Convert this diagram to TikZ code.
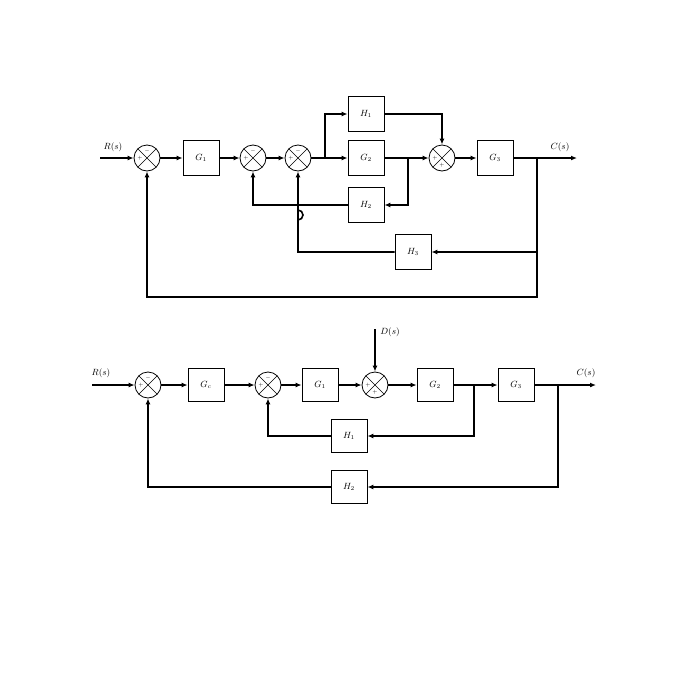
\documentclass[tikz,border=0pt]{standalone}
\usetikzlibrary{arrows.meta}
\begin{document}
\begin{tikzpicture}[x=1pt,y=-1pt,
  blk/.style={draw,line width=0.8pt,minimum width=36pt,minimum height=35pt,inner sep=0pt,font=\small},
  sblk/.style={blk,minimum height=33pt},
  sumj/.style={draw,circle,line width=0.8pt,minimum size=26pt,inner sep=0pt,
    path picture={\draw[line width=0.6pt] (path picture bounding box.south west)--(path picture bounding box.north east)
      (path picture bounding box.north west)--(path picture bounding box.south east);}},
  sgn/.style={font=\tiny,inner sep=0pt},
  sig/.style={line width=1.6pt,-{Latex[length=6pt,width=5pt]}},
  ln/.style={line width=1.6pt},
  lab/.style={font=\small,inner sep=0pt}]
\useasboundingbox (0,0) rectangle (681,675);
% ---------- top ----------
\coordinate (tin) at (100,158);
\node[sumj] (t1) at (147,158) {};
\node[blk] (tg1) at (201,158) {$G_1$};
\node[sumj] (t2) at (253,158) {};
\node[sumj] (t3) at (298,158) {};
\node[blk] (th1) at (366,114) {$H_1$};
\node[blk] (tg2) at (366,158) {$G_2$};
\node[blk] (th2) at (366,205) {$H_2$};
\node[sumj] (t4) at (442,158) {};
\node[blk] (tg3) at (495,158) {$G_3$};
\node[blk] (th3) at (413,252) {$H_3$};
\coordinate (tout) at (577,158);
\coordinate (tb1) at (325,158);
\coordinate (tb2) at (408,158);
\coordinate (tb3) at (537,158);
\node[lab] (tR) at (113,147) {$R(s)$};
\node[lab] (tC) at (560,147) {$C(s)$};
\foreach \s in {t1,t2,t3} {
  \node[sgn] (\s p) at ([xshift=-7pt]\s.center) {$+$};
  \node[sgn] (\s m) at ([yshift=7pt]\s.center) {$-$};}
\node[sgn] (t4p) at ([xshift=-7pt]t4.center) {$+$};
\node[sgn] (t4q) at ([yshift=-7pt]t4.center) {$+$};
\draw[sig] (tin) -- (t1);
\draw[sig] (t1) -- (tg1);
\draw[sig] (tg1) -- (t2);
\draw[sig] (t2) -- (t3);
\draw[sig] (t3) -- (tg2);
\draw[sig] (tb1) |- (th1);
\draw[sig] (th1) -| (t4);
\draw[sig] (tg2) -- (t4);
\draw[sig] (tb2) |- (th2);
\draw[sig] (t4) -- (tg3);
\draw[sig] (tg3) -- (tout);
\draw[sig] (th2) -| (t2);
\draw[sig] (tb3) |- (th3);
\draw[ln] (th3) -| (298,210) arc (-90:90:5) -- (298,190);
\draw[sig] (298,191) -- (t3.south);
\draw[sig] (tb3) -- (537,297) -| (t1);
% ---------- bottom ----------
\coordinate (bin) at (92,385);
\node[sumj] (b1) at (148,385) {};
\node[sblk] (bgc) at (206,385) {$G_c$};
\node[sumj] (b2) at (268,385) {};
\node[sblk] (bg1) at (320,385) {$G_1$};
\node[sumj] (b3) at (375,385) {};
\node[sblk] (bg2) at (435,385) {$G_2$};
\node[sblk] (bg3) at (516,385) {$G_3$};
\node[sblk] (bh1) at (349,436) {$H_1$};
\node[sblk] (bh2) at (349,487) {$H_2$};
\coordinate (bd) at (375,329);
\coordinate (bout) at (596,385);
\coordinate (bb1) at (474,385);
\coordinate (bb2) at (558,385);
\node[lab] (bR) at (101,373) {$R(s)$};
\node[lab] (bC) at (586,373) {$C(s)$};
\node[lab] (bD) at (390,332) {$D(s)$};
\foreach \s in {b1,b2} {
  \node[sgn] (\s p) at ([xshift=-7pt]\s.center) {$+$};
  \node[sgn] (\s m) at ([yshift=7pt]\s.center) {$-$};}
\node[sgn] (b3p) at ([xshift=-7pt]b3.center) {$+$};
\node[sgn] (b3q) at ([yshift=-7pt]b3.center) {$+$};
\draw[sig] (bin) -- (b1);
\draw[sig] (b1) -- (bgc);
\draw[sig] (bgc) -- (b2);
\draw[sig] (b2) -- (bg1);
\draw[sig] (bg1) -- (b3);
\draw[sig] (bd) -- (b3);
\draw[sig] (b3) -- (bg2);
\draw[sig] (bg2) -- (bg3);
\draw[sig] (bg3) -- (bout);
\draw[sig] (bb1) |- (bh1);
\draw[sig] (bh1) -| (b2);
\draw[sig] (bb2) |- (bh2);
\draw[sig] (bh2) -| (b1);
\end{tikzpicture}
\end{document}
